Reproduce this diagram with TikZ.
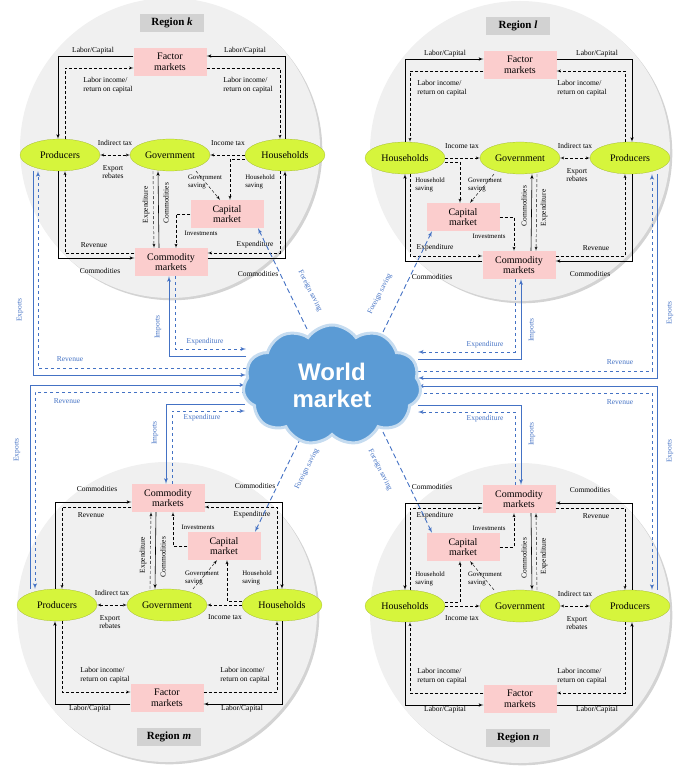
\documentclass[tikz,border=0pt]{standalone}
\usepackage{fontspec}
\setmainfont{Liberation Serif}
\setsansfont{Liberation Sans}
\usepackage{tikz}
\usetikzlibrary{shapes,shapes.symbols,arrows,positioning,shadows}

\definecolor{mktpink}{RGB}{251,205,205}
\definecolor{agentlime}{RGB}{214,245,60}
\definecolor{wblue}{RGB}{68,114,196}
\definecolor{cloudblue}{RGB}{91,155,213}

\tikzset{
  mkt/.style = {rectangle, fill=mktpink, minimum width=73pt, minimum height=28pt, align=center, inner sep=1pt, font=\fontsize{10}{10.5}\selectfont},
  agent/.style = {ellipse, fill=agentlime, draw=agentlime!70!black, line width=0.2pt, minimum width=80pt, minimum height=32pt, inner sep=0pt, font=\fontsize{10}{11}\selectfont},
  title/.style = {fill=gray!35, minimum width=64pt, minimum height=18pt, font=\bfseries\fontsize{11}{12}\selectfont},
  line/.style = {draw, -latex', line width=0.6pt},
  money/.style = {draw, -latex', densely dashed, line width=0.4pt},
  wline/.style = {draw=wblue, -latex', line width=0.9pt},
  wmoney/.style = {wline, dashed},
  lbl/.style = {align=left, inner sep=0pt, font=\fontsize{7.5}{8.5}\selectfont},
  wlbl/.style = {lbl, text=wblue},
}

% one region: gov x, gov y, x sign, y sign, suffix, world distance, letter
\newcommand\regionpic[7]{%
\begin{scope}[shift={(#1,#2)}]
\def\sx{#3}\def\sy{#4}
\ifnum#3=1 \def\W{west}\def\E{east}\else\def\W{east}\def\E{west}\fi
\ifnum#4=1 \def\N{north}\def\S{south}\else\def\N{south}\def\S{north}\fi
\fill[gray!12, drop shadow={opacity=0.35}] (0,{\sy*-7}) circle (150);
\node[title] (title#5) at ({\sx*2},{\sy*-132}) {Region \textit{#7}};
\node[mkt] (fm#5) at (0,{\sy*-93}) {Factor\\markets};
\node[agent] (prod#5) at ({\sx*-110},0) {Producers};
\node[agent] (gov#5) at (0,0) {Government};
\node[agent] (hh#5) at ({\sx*115},0) {Households};
\node[mkt] (cap#5) at ({\sx*57},{\sy*59}) {Capital\\market};
\node[mkt] (com#5) at ({\sx*1},{\sy*107}) {Commodity\\markets};
% factor markets
\path[line] ([yshift=\sy*6pt]fm#5.\W) -| ([xshift=\sx*-2pt]prod#5.\N);
\path[money] ([xshift=\sx*5pt]prod#5.\N) |- ([yshift=\sy*-6pt]fm#5.\W);
\path[line] (hh#5.\N) |- ([yshift=\sy*6pt]fm#5.\E);
\path[money] ([yshift=\sy*-6pt]fm#5.\E) -| ([xshift=\sx*-5pt]hh#5.\N);
\node[lbl] at ({\sx*-77},{\sy*-104}) {Labor/Capital};
\node[lbl] at ({\sx*75},{\sy*-104}) {Labor/Capital};
\node[lbl] at ({\sx*-62},{\sy*-70}) {Labor income/\\return on capital};
\node[lbl] at ({\sx*78},{\sy*-70}) {Labor income/\\return on capital};
% government
\path[money, latex'-latex'] (prod#5) -- (gov#5);
\path[money] (hh#5) -- (gov#5);
\node[lbl] at ({\sx*-55},-12) {Indirect tax};
\node[lbl, align=center] at ({\sx*-57},17) {Export\\rebates};
\node[lbl] at ({\sx*58},{\sy*-12}) {Income tax};
% capital market
\path[money] ([yshift=\sy*-4pt]hh#5.\W) -| ([xshift=\sx*3pt]cap#5.\N);
\path[money] ([xshift=\sx*26pt]gov#5.\S) -- ([xshift=\sx*-7pt]cap#5.\N);
\path[money] (cap#5.\W) -| ([xshift=\sx*5pt]com#5.\N);
\node[lbl, font=\fontsize{6.8}{7.5}\selectfont] at ({\sx*90},{\sy*27}) {Household\\saving};
\node[lbl, font=\fontsize{6.8}{7.5}\selectfont] at ({\sx*35},{\sy*27}) {Government\\saving};
\node[lbl, font=\fontsize{6.8}{7.5}\selectfont] at ({\sx*31},{\sy*78}) {Investments};
% commodity markets
\path[money] ([xshift=\sx*-17pt]gov#5.\S) -- ([xshift=\sx*-17pt]com#5.\N);
\path[line] ([xshift=\sx*-12pt]com#5.\N) -- ([xshift=\sx*-12pt]gov#5.\S);
\node[lbl, rotate=90] at ({\sx*-24},{\sy*50}) {Expenditure};
\node[lbl, rotate=90] at ({\sx*-4},{\sy*48}) {Commodities};
\path[money] ([yshift=\sy*9pt]com#5.\W) -| ([xshift=\sx*5pt]prod#5.\S);
\path[line] ([xshift=\sx*-2pt]prod#5.\S) |- ([yshift=\sy*4pt]com#5.\W);
\path[money] ([xshift=\sx*-5pt]hh#5.\S) |- ([yshift=\sy*9pt]com#5.\E);
\path[line] ([yshift=\sy*4pt]com#5.\E) -| (hh#5.\S);
\node[lbl] at ({\sx*-76},{\sy*90}) {Revenue};
\node[lbl] at ({\sx*-70},{\sy*116}) {Commodities};
\node[lbl] at ({\sx*85},{\sy*90}) {Expenditure};
\node[lbl] at ({\sx*88},{\sy*119}) {Commodities};
% world market
\coordinate (ex#5) at ({\sx*#6},{\sy*220});
\coordinate (rv#5) at ({\sx*#6},{\sy*213});
\coordinate (im#5) at ({\sx*#6},{\sy*201});
\coordinate (xp#5) at ({\sx*#6},{\sy*194});
\coordinate (fs#5) at ({\sx*137},{\sy*174});
\path[wline] ([xshift=\sx*-27pt]prod#5.\S) |- (ex#5);
\path[wmoney] (rv#5) -| ([xshift=\sx*-22pt]prod#5.\S);
\path[wline] (im#5) -| ([xshift=\sx*-2pt]com#5.\S);
\path[wmoney] ([xshift=\sx*4pt]com#5.\S) |- (xp#5);
\path[wmoney, dash pattern=on 5pt off 3pt] (fs#5) -- ([xshift=\sx*31pt]cap#5.\S);
\node[wlbl, rotate=90] at ({\sx*-150},{\sy*155}) {Exports};
\node[wlbl] at ({\sx*-100},{\sy*204}) {Revenue};
\node[wlbl, rotate=90] at ({\sx*-12},{\sy*172}) {Imports};
\node[wlbl] at ({\sx*35},{\sy*187}) {Expenditure};
\node[wlbl, rotate={-63*\sx*\sy}] at ({\sx*140},{\sy*136}) {Foreign saving};
\end{scope}}

\begin{document}
\begin{tikzpicture}[x=1pt, y=-1pt]
\useasboundingbox (0,0) rectangle (685,775);
\regionpic{170}{155}{1}{1}{k}{76}{k}
\regionpic{520}{158}{-1}{1}{l}{102}{l}
\regionpic{167}{605}{1}{-1}{m}{78}{m}
\regionpic{520}{606}{-1}{-1}{n}{102}{n}
\node[cloud, cloud puffs=11, cloud puff arc=110, aspect=1.5, fill=cloudblue, draw=cloudblue!35, line width=3pt, minimum width=178pt, minimum height=120pt, align=center, text=white, font=\sffamily\bfseries\fontsize{24}{27}\selectfont] (world) at (332,385) {World\\market};
\end{tikzpicture}
\end{document}
